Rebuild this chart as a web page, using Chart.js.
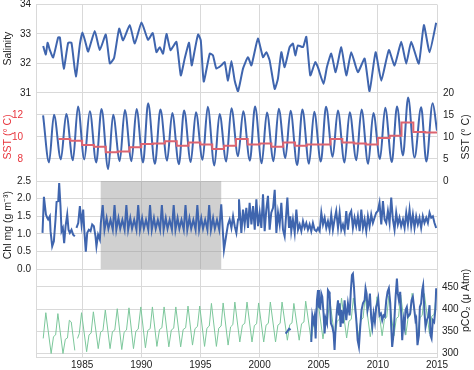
<!DOCTYPE html>
<html><head><meta charset="utf-8">
<script src="https://cdn.jsdelivr.net/npm/chart.js@4/dist/chart.umd.min.js"></script>
<style>
html,body{margin:0;padding:0;background:#fff;}
#wrap{position:relative;width:474px;height:370px;overflow:hidden;}
#wrap canvas{position:absolute;left:0;top:0;}
</style></head><body>
<div id="wrap">
<canvas id="c1" width="474" height="370"></canvas>
<canvas id="c2" width="474" height="370"></canvas>
<canvas id="c3" width="474" height="370"></canvas>
<canvas id="c4" width="474" height="370"></canvas>
</div>
<script>
// ---------- data ----------
const yearTicks = [1985, 1990, 1995, 2000, 2005, 2010, 2015];
const salTicks = [31, 32, 33, 34];
const sstLeftTicks = [8, 10, 12];
const sstRightTicks = [0, 5, 10, 15, 20];
const chlTicks = [0, 0.5, 1, 1.5, 2, 2.5];
const pco2Ticks = [300, 350, 400, 450];
const shadedPeriod = [1986.55, 1996.78];

const salinity = [
[1981.71,32.59],[1981.93,32.30],[1982.08,32.70],[1982.27,32.45],[1982.55,32.20],[1982.97,32.88],[1983.12,32.88],[1983.45,31.82],[1983.82,32.70],[1984.10,32.70],[1984.47,31.55],[1984.81,32.65],[1985.03,33.05],[1985.31,32.67],[1985.51,32.40],[1986.07,33.10],[1986.49,32.45],[1987.00,32.98],[1987.34,32.00],[1987.70,32.18],[1988.13,33.18],[1988.46,32.78],[1989.03,33.30],[1989.45,32.67],[1990.02,33.39],[1990.57,32.80],[1990.97,33.03],[1991.28,32.38],[1991.56,32.55],[1991.84,32.33],[1992.13,33.00],[1992.47,32.45],[1992.97,32.73],[1993.34,31.59],[1993.67,32.16],[1994.04,32.70],[1994.26,31.93],[1994.52,32.45],[1994.80,32.98],[1995.03,32.78],[1995.28,31.38],[1995.79,32.33],[1996.06,32.27],[1996.35,31.82],[1996.77,31.93],[1997.05,32.04],[1997.33,31.41],[1997.62,32.08],[1997.90,31.41],[1998.18,31.05],[1998.60,31.82],[1999.02,32.21],[1999.31,31.93],[1999.86,32.84],[2000.29,32.21],[2000.57,32.38],[2000.85,32.10],[2001.28,31.13],[2001.55,31.47],[2001.84,32.38],[2002.12,31.87],[2002.54,32.55],[2002.82,32.67],[2003.02,32.27],[2003.24,32.61],[2003.67,32.55],[2003.95,32.90],[2004.29,31.59],[2004.71,32.04],[2004.93,31.87],[2005.41,31.30],[2005.69,31.87],[2006.06,32.33],[2006.43,31.70],[2006.91,32.55],[2007.33,31.59],[2007.75,32.38],[2008.31,31.70],[2008.88,32.16],[2009.30,31.05],[2009.81,32.38],[2010.29,31.41],[2010.93,32.45],[2011.41,31.93],[2011.98,32.73],[2012.40,31.99],[2012.82,32.73],[2013.46,31.99],[2013.89,33.30],[2014.37,32.38],[2014.93,33.38]
];

const sstMonthly = [
[1981.70,14.9],[1982.20,4.2],[1982.62,15.0],[1983.20,4.9],[1983.66,15.2],[1984.22,4.7],[1984.65,16.9],[1985.18,4.9],[1985.65,15.8],[1986.19,4.2],[1986.64,16.3],[1987.20,2.7],[1987.62,15.0],[1988.18,4.5],[1988.61,16.1],[1989.17,4.5],[1989.60,16.3],[1990.15,4.2],[1990.58,17.6],[1991.15,3.9],[1991.62,16.2],[1992.18,4.6],[1992.62,15.4],[1993.18,3.8],[1993.62,16.0],[1994.18,4.3],[1994.62,15.6],[1995.18,4.8],[1995.62,16.8],[1996.18,3.5],[1996.62,15.2],[1997.18,4.4],[1997.62,16.5],[1998.18,5.6],[1998.62,15.8],[1999.18,4.6],[1999.62,16.9],[2000.18,4.0],[2000.62,15.5],[2001.18,4.5],[2001.62,16.4],[2002.18,5.2],[2002.62,15.9],[2003.18,3.6],[2003.62,16.2],[2004.18,3.9],[2004.62,15.7],[2005.18,4.4],[2005.62,16.8],[2006.18,5.5],[2006.62,16.0],[2007.18,4.2],[2007.62,15.6],[2008.18,4.7],[2008.62,16.2],[2009.18,3.9],[2009.62,15.4],[2010.18,5.0],[2010.62,16.6],[2011.18,4.3],[2011.62,16.9],[2012.12,5.8],[2012.56,18.9],[2013.10,5.3],[2013.66,16.7],[2014.10,4.4],[2014.63,17.6],[2015.00,11.4]
];

const sstAnnual = [
[1983,9.80],[1984,9.64],[1985,9.26],[1986,9.10],[1987,8.60],[1988,8.67],[1989,9.05],[1990,9.35],[1991,9.40],[1992,9.60],[1993,9.20],[1994,9.50],[1995,9.30],[1996,8.90],[1997,9.20],[1998,9.80],[1999,9.30],[2000,9.40],[2001,9.10],[2002,9.50],[2003,9.20],[2004,9.30],[2005,9.30],[2006,9.80],[2007,9.50],[2008,9.40],[2009,9.30],[2010,9.90],[2011,10.10],[2012,11.30],[2013,10.45],[2014,10.40],[2015,10.40]
];

const chlorophyll = [
[1981.65,1.03],[1981.77,2.05],[1981.94,1.55],[1982.05,1.46],[1982.13,1.41],[1982.27,1.50],[1982.33,1.08],[1982.47,0.65],[1982.61,0.79],[1982.75,1.41],[1982.84,1.91],[1982.98,1.93],[1983.06,2.44],[1983.17,1.79],[1983.26,1.08],[1983.37,1.17],[1983.48,0.74],[1983.60,1.22],[1983.74,1.55],[1983.85,1.12],[1983.96,1.03],[1984.10,1.12],[1984.24,0.98],[1984.38,0.93],[1984.45,null],[1984.52,1.17],[1984.67,1.31],[1984.81,1.79],[1984.95,1.27],[1985.09,1.69],[1985.17,1.17],[1985.31,0.50],[1985.43,1.03],[1985.57,1.12],[1985.71,1.08],[1985.85,1.27],[1985.99,1.22],[1986.13,0.93],[1986.21,0.65],[1986.35,0.98],[1986.50,0.84],[1986.58,1.31],
[1986.74,1.82],[1986.89,1.12],[1987.07,1.45],[1987.22,1.15],[1987.40,1.40],[1987.59,1.12],
[1987.74,1.82],[1987.89,1.12],[1988.07,1.45],[1988.22,1.15],[1988.40,1.40],[1988.59,1.12],
[1988.74,1.82],[1988.89,1.12],[1989.07,1.45],[1989.22,1.15],[1989.40,1.40],[1989.59,1.12],
[1989.74,1.82],[1989.89,1.12],[1990.07,1.45],[1990.22,1.15],[1990.40,1.40],[1990.59,1.12],
[1990.74,1.82],[1990.89,1.12],[1991.07,1.45],[1991.22,1.15],[1991.40,1.40],[1991.59,1.12],
[1991.74,1.82],[1991.89,1.12],[1992.07,1.45],[1992.22,1.15],[1992.40,1.40],[1992.59,1.12],
[1992.74,1.82],[1992.89,1.12],[1993.07,1.45],[1993.22,1.15],[1993.40,1.40],[1993.59,1.12],
[1993.74,1.82],[1993.89,1.12],[1994.07,1.45],[1994.22,1.15],[1994.40,1.40],[1994.59,1.12],
[1994.74,1.82],[1994.89,1.12],[1995.07,1.45],[1995.22,1.15],[1995.40,1.40],[1995.59,1.12],
[1995.74,1.82],[1995.89,1.12],[1996.07,1.45],[1996.22,1.15],[1996.40,1.40],[1996.59,1.12],
[1996.76,1.84],[1996.99,0.55],[1997.19,0.98],[1997.33,1.27],[1997.47,1.41],[1997.62,1.17],[1997.76,1.50],[1997.90,1.22],[1998.04,1.03],[1998.18,1.41],[1998.26,1.98],[1998.38,1.41],
[1998.46,1.03],[1998.60,1.69],[1998.74,1.27],[1998.88,1.74],[1999.02,1.17],[1999.16,1.88],[1999.31,1.27],[1999.45,1.79],[1999.59,1.12],[1999.73,1.98],[1999.87,1.22],[2000.01,1.60],[2000.15,1.17],[2000.29,2.12],[2000.43,1.08],[2000.57,1.69],[2000.71,2.08],[2000.85,1.12],[2000.99,1.60],[2001.14,1.74],[2001.28,2.25],[2001.42,1.03],[2001.56,1.60],[2001.70,1.27],[2001.84,1.88],[2001.98,1.12],[2002.12,0.93],[2002.26,1.60],[2002.35,2.03],[2002.49,1.17],[2002.60,1.50],[2002.68,1.08],[2002.82,1.41],[2002.97,1.03],[2003.11,1.69],[2003.25,1.12],[2003.39,1.27],[2003.53,1.08],[2003.67,1.36],[2003.81,1.17],[2003.95,1.31],[2004.09,1.12],[2004.23,1.27],[2004.37,1.08],[2004.51,1.31],[2004.65,1.12],[2004.80,1.08],[2004.94,1.17],[2005.08,1.08],[2005.22,1.60],[2005.36,1.27],[2005.50,1.46],[2005.64,1.17],[2005.78,1.36],[2005.92,1.12],[2006.06,1.55],[2006.20,1.12],[2006.34,1.41],[2006.48,1.65],[2006.63,1.17],[2006.77,1.60],[2006.91,1.12],[2007.05,1.27],[2007.19,1.08],[2007.33,1.65],[2007.47,1.12],[2007.61,1.55],[2007.75,1.65],[2007.89,1.17],[2008.03,1.46],[2008.17,1.22],[2008.31,1.50],[2008.46,1.08],[2008.60,1.69],[2008.74,1.17],[2008.88,1.41],[2009.02,1.08],[2009.16,1.50],[2009.30,1.22],[2009.44,1.55],[2009.58,1.31],[2009.72,1.46],[2009.86,1.60],[2010.00,1.65],[2010.14,1.88],[2010.29,1.27],[2010.43,1.93],[2010.57,1.41],[2010.71,1.31],[2010.85,1.65],[2010.99,1.31],[2011.13,2.03],[2011.27,1.41],[2011.41,1.12],[2011.55,1.60],[2011.69,1.27],[2011.83,1.46],[2011.97,1.22],[2012.12,1.41],[2012.26,1.17],[2012.40,1.60],[2012.54,1.27],[2012.68,1.69],[2012.82,1.22],[2012.96,1.55],[2013.10,1.17],[2013.24,1.50],[2013.38,1.27],[2013.52,1.46],[2013.66,1.17],[2013.80,1.50],[2013.94,1.31],[2014.09,1.46],[2014.23,1.31],[2014.37,1.60],[2014.51,1.46],[2014.65,1.50],[2014.79,1.31],[2014.93,1.17]
];

const pco2Model = [
[1981.71,334],[1981.93,392],
[1982.38,300],[1982.58,338],[1982.76,342],[1982.95,390],
[1983.38,300],[1983.58,332],[1983.76,335],[1983.92,375],[1984.08,371],[1984.38,307],[1984.50,null],[1984.61,334],[1984.76,345],[1984.95,392],
[1985.38,304],[1985.58,342],[1985.76,346],[1985.95,394],
[1986.36,311],[1986.56,348],[1986.76,352],[1986.96,398],
[1987.36,311],[1987.56,349],[1987.76,353],[1987.97,401],
[1988.35,309],[1988.55,348],[1988.75,353],[1988.96,403],
[1989.34,311],[1989.54,350],[1989.74,355],[1989.96,405],
[1990.35,313],[1990.55,352],[1990.75,356],[1990.94,405],
[1991.32,316],[1991.54,354],[1991.74,358],[1991.93,405],
[1992.33,315],[1992.54,353],[1992.74,357],[1992.92,405],
[1993.33,315],[1993.54,354],[1993.75,358],[1993.95,407],
[1994.33,319],[1994.54,356],[1994.75,361],[1994.94,407],
[1995.35,316],[1995.55,357],[1995.75,362],[1995.93,413],
[1996.35,316],[1996.55,357],[1996.75,362],[1996.92,414],
[1997.34,319],[1997.55,360],[1997.74,365],[1997.91,416],
[1998.33,326],[1998.55,364],[1998.75,368],[1998.94,416],
[1999.36,326],[1999.56,363],[1999.75,367],[1999.92,414],
[2000.35,326],[2000.55,364],[2000.74,368],[2000.91,416],
[2001.35,326],[2001.55,364],[2001.74,368],[2001.90,416],
[2002.35,330],[2002.55,365],[2002.74,369],[2002.90,413],
[2003.35,330],[2003.55,367],[2003.75,371],[2003.90,418],
[2004.36,330],[2004.56,368],[2004.75,372],[2004.93,420],
[2005.36,333],[2005.56,370],[2005.75,375],[2005.93,422],
[2006.36,335],[2006.56,373],[2006.75,377],[2006.93,425],
[2007.36,335],[2007.56,373],[2007.75,377],[2007.93,425],
[2008.36,338],[2008.56,375],[2008.75,380],[2008.93,427],
[2009.36,338],[2009.56,376],[2009.75,380],[2009.93,428],
[2010.36,340],[2010.56,378],[2010.75,382],[2010.93,430],
[2011.36,340],[2011.56,379],[2011.75,383],[2011.93,432],
[2012.36,342],[2012.56,381],[2012.75,386],[2012.90,436],
[2013.36,342],[2013.56,381],[2013.75,386],[2013.93,435],
[2014.36,345],[2014.56,384],[2014.75,388],[2014.95,437]
];

const pco2Observed = [
[2002.20,345],[2002.35,350],[2002.50,356],[2002.62,353],[2003.50,null],
[2004.37,326],[2004.46,386],[2004.57,371],[2004.65,383],[2004.74,334],[2004.85,420],[2004.94,443],[2005.02,405],[2005.13,402],[2005.22,435],[2005.30,428],[2005.41,390],[2005.50,345],[2005.58,379],[2005.70,368],[2005.78,443],[2005.87,439],[2005.92,435],[2006.03,368],[2006.15,360],[2006.26,345],[2006.34,308],[2006.43,360],[2006.54,398],[2006.63,420],[2006.71,386],[2006.77,413],[2006.85,360],[2006.93,398],[2007.05,368],[2007.19,420],[2007.33,375],[2007.47,413],[2007.61,386],[2007.72,443],[2007.81,477],[2007.89,480],[2007.98,450],[2008.06,413],[2008.17,379],[2008.29,330],[2008.40,315],[2008.51,360],[2008.62,398],[2008.74,413],[2008.88,420],[2008.96,447],[2009.05,435],[2009.13,398],[2009.24,413],[2009.33,435],[2009.44,379],[2009.53,360],[2009.64,390],[2009.75,371],[2009.86,405],[2009.95,413],[2010.03,424],[2010.14,386],[2010.26,390],[2010.37,375],[2010.48,386],[2010.59,383],[2010.71,420],[2010.82,439],[2010.93,447],[2011.05,413],[2011.13,360],[2011.21,315],[2011.33,345],[2011.41,383],[2011.50,428],[2011.61,469],[2011.69,435],[2011.78,420],[2011.89,439],[2011.97,390],[2012.06,330],[2012.17,375],[2012.26,360],[2012.34,398],[2012.45,405],[2012.54,383],[2012.62,386],[2012.73,390],[2012.85,420],[2012.96,428],[2013.07,402],[2013.18,375],[2013.24,379],[2013.35,319],[2013.47,341],[2013.55,405],[2013.66,413],[2013.75,443],[2013.83,454],[2013.95,390],[2014.03,360],[2014.14,375],[2014.26,383],[2014.37,409],[2014.45,341],[2014.54,334],[2014.65,375],[2014.76,371],[2014.87,402],[2014.93,447]
];

// ---------- styling ----------
const BLUE = '#3f65ae';
const RED_LINE = '#dd6470';
const RED_TEXT = '#e8343c';
const GREEN = '#7cc79b';
const GRID = '#d9d9d9';
const FONT = "'Liberation Sans', Arial, Helvetica, sans-serif";
const TICK_FONT = {family: FONT, size: 10};
const X_MIN = 1981.1, X_MAX = 2015;

function fixW(w) { return s => { s.width = w; s.paddingTop = 0; s.paddingBottom = 0; }; }
function fixH(h) { return s => { s.height = h; s.paddingLeft = 0; s.paddingRight = 0; }; }
function setTicks(arr) { return s => { s.ticks = arr.map(v => ({value: v})); }; }

function xScale(showLabels) {
  return {
    type: 'linear', min: X_MIN, max: X_MAX, position: 'bottom',
    afterBuildTicks: setTicks(yearTicks),
    afterFit: fixH(showLabels ? 12.5 : 0),
    grid: {color: GRID, drawTicks: false, lineWidth: 1},
    border: {display: showLabels, color: GRID},
    ticks: {display: showLabels, font: TICK_FONT, color: '#222', padding: 2, maxRotation: 0, autoSkip: false,
            callback: v => String(v)}
  };
}

function titles(list) {
  return {
    id: 'panelTitles',
    afterDraw(chart) {
      const {ctx, chartArea} = chart;
      const cy = (chartArea.top + chartArea.bottom) / 2;
      ctx.save();
      ctx.font = "10.5px " + FONT;
      ctx.textAlign = 'center';
      ctx.textBaseline = 'middle';
      for (const t of list) {
        ctx.save();
        ctx.translate(t.x, cy + (t.dy || 0));
        ctx.rotate(-Math.PI / 2);
        ctx.fillStyle = t.color;
        ctx.fillText(t.text, 0, 0);
        ctx.restore();
      }
      ctx.restore();
    }
  };
}

const base = {
  responsive: false, animation: false, devicePixelRatio: 1,
  plugins: {legend: {display: false}, tooltip: {enabled: false}},
  elements: {point: {radius: 0}},
};

// ---------- Salinity ----------
new Chart(document.getElementById('c1'), {
  type: 'line',
  data: {datasets: [{data: salinity, borderColor: BLUE, borderWidth: 2, tension: 0.15, pointRadius: 0}]},
  options: Object.assign({}, base, {
    layout: {padding: {top: 4.5, bottom: 370 - 92.75, left: 0, right: 37}},
    scales: {
      x: xScale(false),
      y: {type: 'linear', position: 'left', min: 31, max: 34,
          afterBuildTicks: setTicks(salTicks), afterFit: fixW(36),
          grid: {color: GRID, drawTicks: false}, border: {color: GRID},
          ticks: {font: TICK_FONT, color: '#222', padding: 5}}
    }
  }),
  plugins: [titles([{x: 8.5, text: 'Salinity', color: '#222'}])]
});

// ---------- SST ----------
new Chart(document.getElementById('c2'), {
  type: 'line',
  data: {datasets: [
    {data: sstAnnual, yAxisID: 'yL', borderColor: RED_LINE, borderWidth: 2, stepped: true, pointRadius: 0, order: 1},
    {data: sstMonthly, yAxisID: 'yR', borderColor: BLUE, borderWidth: 2, cubicInterpolationMode: 'monotone', pointRadius: 0, order: 2}
  ]},
  options: Object.assign({}, base, {
    layout: {padding: {top: 92.75, bottom: 370 - 181, left: 0, right: 0}},
    scales: {
      x: xScale(false),
      yL: {type: 'linear', position: 'left', min: 6, max: 14,
           afterBuildTicks: setTicks(sstLeftTicks), afterFit: fixW(36),
           grid: {display: false}, border: {color: GRID},
           ticks: {font: TICK_FONT, color: RED_TEXT, padding: 5}},
      yR: {type: 'linear', position: 'right', min: 0, max: 20,
           afterBuildTicks: setTicks(sstRightTicks), afterFit: fixW(37),
           grid: {color: GRID, drawTicks: false}, border: {color: GRID},
           ticks: {font: TICK_FONT, color: '#222', padding: 6}}
    }
  }),
  plugins: [titles([{x: 8.5, text: 'SST (° C)', color: RED_TEXT}, {x: 466.5, text: 'SST (° C)', color: '#222'}])]
});

// ---------- Chlorophyll ----------
new Chart(document.getElementById('c3'), {
  type: 'line',
  data: {datasets: [
    {data: chlorophyll, borderColor: BLUE, borderWidth: 2, tension: 0, pointRadius: 0, spanGaps: false, order: 1},
    {data: [[shadedPeriod[0], chlTicks[chlTicks.length - 1]], [shadedPeriod[1], chlTicks[chlTicks.length - 1]]],
     borderWidth: 0, borderColor: 'rgba(0,0,0,0)', backgroundColor: 'rgba(150,150,150,0.45)', fill: 'origin', pointRadius: 0, order: 2}
  ]},
  options: Object.assign({}, base, {
    layout: {padding: {top: 181, bottom: 370 - 269.25, left: 0, right: 37}},
    scales: {
      x: xScale(false),
      y: {type: 'linear', position: 'left', min: 0, max: 2.5,
          afterBuildTicks: setTicks(chlTicks), afterFit: fixW(36),
          grid: {color: GRID, drawTicks: false}, border: {color: GRID},
          ticks: {font: TICK_FONT, color: '#222', padding: 5, callback: v => Number(v).toFixed(1)}}
    }
  }),
  plugins: [titles([{x: 8.5, text: 'Chl mg (g m⁻³)', color: '#222'}])]
});

// ---------- pCO2 ----------
new Chart(document.getElementById('c4'), {
  type: 'line',
  data: {datasets: [
    {data: pco2Observed, yAxisID: 'yR', borderColor: BLUE, borderWidth: 2, tension: 0, pointRadius: 0, spanGaps: false, order: 1},
    {data: pco2Model, yAxisID: 'yR', borderColor: GREEN, borderWidth: 1, tension: 0, pointRadius: 0, spanGaps: false, order: 2}
  ]},
  options: Object.assign({}, base, {
    layout: {padding: {top: 269.25, bottom: 0, left: 0, right: 0}},
    scales: {
      x: xScale(true),
      yL: {type: 'linear', position: 'left', min: 0, max: 1, afterFit: fixW(36),
           grid: {display: false}, border: {color: GRID}, ticks: {display: false}},
      yR: {type: 'linear', position: 'right', min: 291, max: 490,
           afterBuildTicks: setTicks(pco2Ticks), afterFit: fixW(37),
           grid: {color: GRID, drawTicks: false}, border: {color: GRID},
           ticks: {font: TICK_FONT, color: '#222', padding: 5}}
    }
  }),
  plugins: [titles([{x: 466.5, dy: -13, text: 'pCO₂ (μ Atm)', color: '#222'}])]
});
</script>
</body></html>
